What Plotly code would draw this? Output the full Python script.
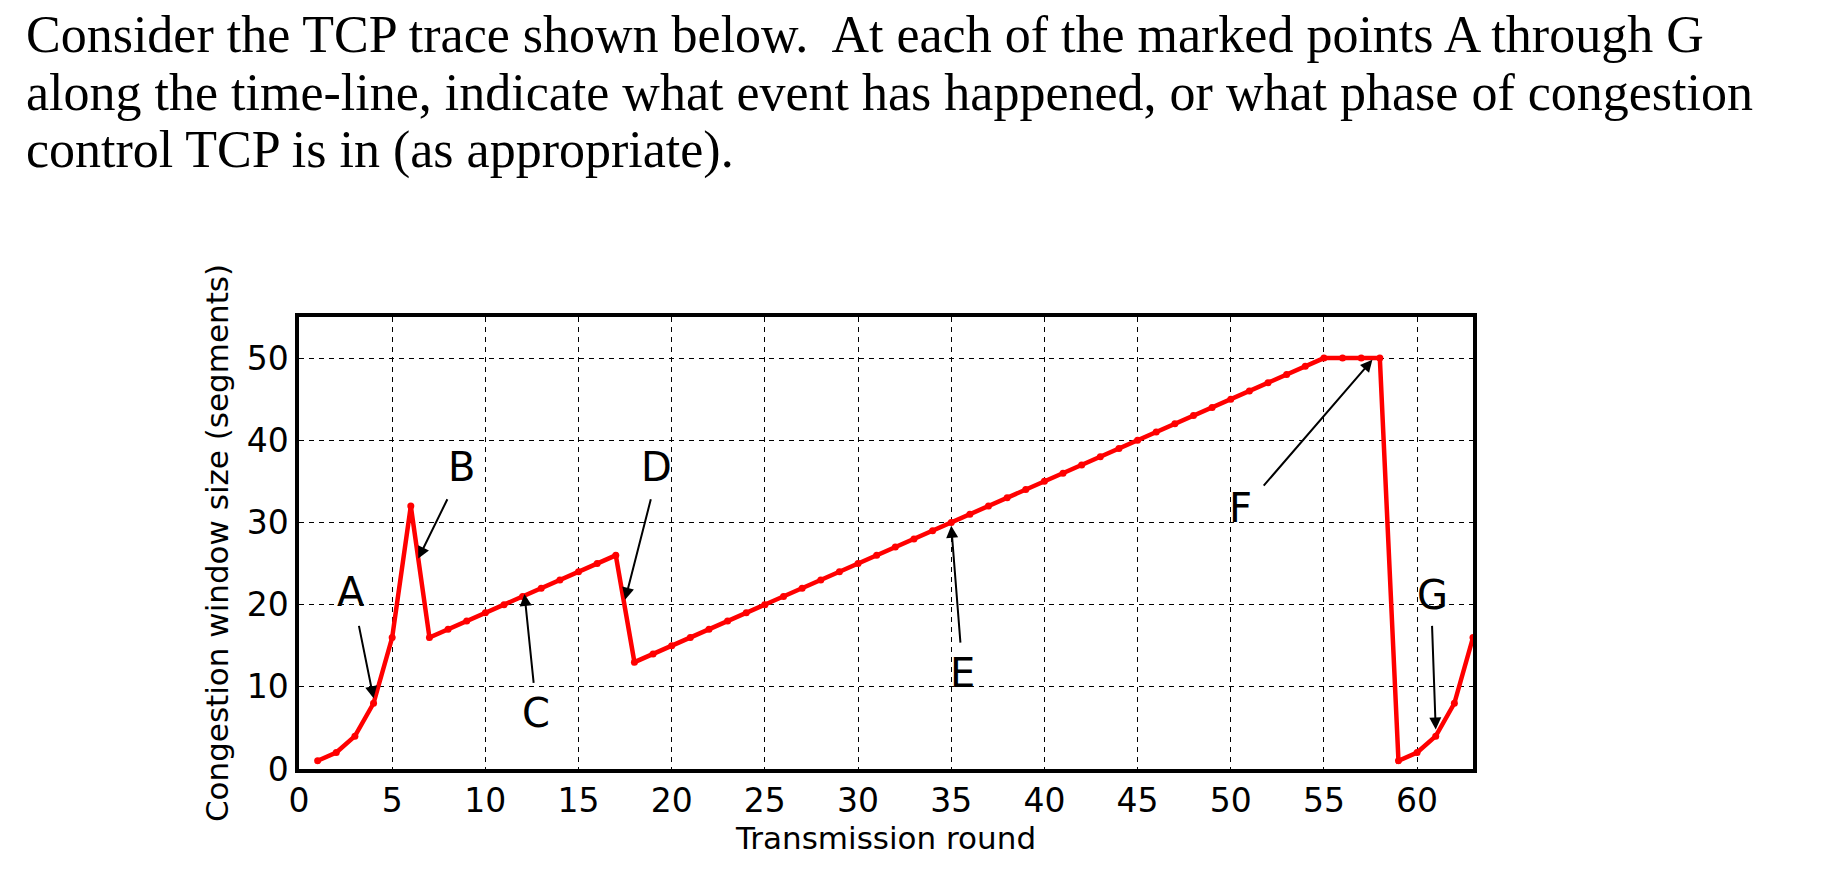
import plotly.graph_objects as go

rounds = list(range(1, 64))
cwnd = ([1, 2, 4, 8, 16, 32]
        + list(range(16, 27))        # rounds 7-17
        + list(range(13, 51))        # rounds 18-55
        + [50, 50, 50]               # rounds 56-58
        + [1, 2, 4, 8, 16])          # rounds 59-63

question = [
    "Consider the TCP trace shown below.  At each of the marked points A through G",
    "along the time-line, indicate what event has happened, or what phase of congestion",
    "control TCP is in (as appropriate).",
]

# letter label position, arrow tail, arrow head
labels = ["A", "B", "C", "D", "E", "F", "G"]
label_xy = [(2.8, 21.5), (8.7, 36.7), (12.7, 6.8), (19.2, 36.7), (35.6, 11.7), (50.5, 31.8), (60.8, 21.2)]
tail_xy = [(3.2, 17.6), (8.0, 33.0), (12.6, 10.3), (18.9, 33.0), (35.5, 15.2), (51.7, 34.3), (60.8, 17.6)]
head_xy = [(4.0, 8.6), (6.4, 25.6), (12.1, 21.3), (17.5, 20.6), (35.0, 29.6), (57.6, 49.8), (61.0, 4.8)]

W, H = 1837, 878
plot_top, plot_bottom, plot_left, plot_right = 309, 761, 291, 1465

fig = go.Figure()
fig.add_trace(go.Scatter(x=rounds, y=cwnd, mode="lines+markers",
                         line=dict(color="#ff0000", width=4.5),
                         marker=dict(color="#ff0000", size=7),
                         cliponaxis=True, showlegend=False))

for lab, (lx, ly), (tx, ty), (hx, hy) in zip(labels, label_xy, tail_xy, head_xy):
    fig.add_annotation(x=hx, y=hy, ax=tx, ay=ty, xref="x", yref="y", axref="x", ayref="y",
                       text="", showarrow=True, arrowhead=2, arrowsize=1.2,
                       arrowwidth=2, arrowcolor="black")
    fig.add_annotation(x=lx, y=ly, text=lab, showarrow=False,
                       font=dict(family="DejaVu Sans", size=40, color="black"))

# question text, placed in pixels converted to paper fractions
pw = plot_right - plot_left
ph = plot_bottom - plot_top
for i, line in enumerate(question):
    px, py = 16, 26 + 58 * i
    fig.add_annotation(x=(px - plot_left) / pw, y=(plot_bottom - py) / ph,
                       xref="paper", yref="paper", text=line,
                       showarrow=False, xanchor="left", yanchor="middle",
                       font=dict(family="Liberation Serif", size=52, color="black"))

axis_common = dict(showline=True, mirror=True, linecolor="black", linewidth=3.5,
                   showgrid=True, gridcolor="black", gridwidth=1, griddash="5px,5px",
                   zeroline=False, ticks="", tickfont=dict(family="DejaVu Sans", size=33, color="black"),
                   title_font=dict(family="DejaVu Sans", size=31, color="black"))

fig.update_xaxes(range=[0, 63], dtick=5, title_text="Transmission round", title_standoff=4, **axis_common)
fig.update_yaxes(range=[0, 55], dtick=10, title_text="Congestion window size (segments)",
                 title_standoff=10, **axis_common)

fig.update_layout(width=W, height=H, plot_bgcolor="white", paper_bgcolor="white",
                  margin=dict(l=plot_left, r=W - plot_right, t=plot_top, b=H - plot_bottom))

fig.write_html("out.html")
